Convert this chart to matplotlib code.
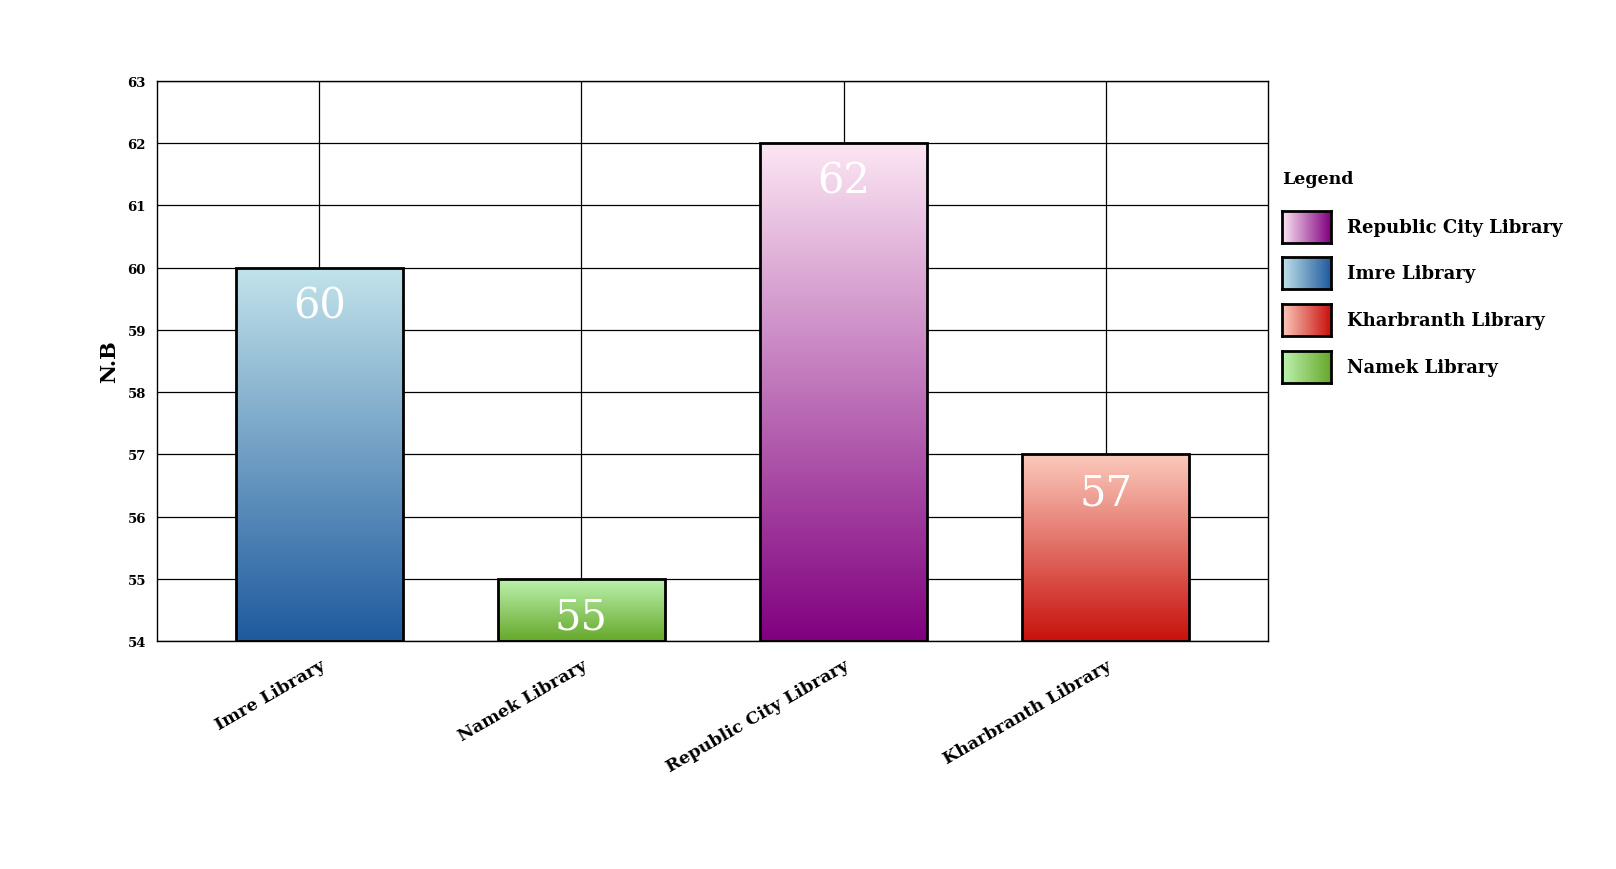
import numpy as np
import matplotlib.pyplot as plt
from matplotlib.colors import LinearSegmentedColormap

categories = ['Imre Library', 'Namek Library', 'Republic City Library', 'Kharbranth Library']
values = [60, 55, 62, 57]
top_colors = ['#c2e3ea', '#bdf3b0', '#fce6f3', '#fbcabd']
bottom_colors = ['#1f5a9e', '#66a82a', '#80007f', '#c8110c']
legend_order = ['Republic City Library', 'Imre Library', 'Kharbranth Library', 'Namek Library']
ylabel = 'N.B'
ymin, ymax = 54, 63

plt.rcParams['font.family'] = ['DejaVu Serif']

fig = plt.figure(figsize=(16.16, 8.70), dpi=100)
ax = fig.add_axes([157 / 1616, 1 - 642 / 870, (1268 - 157) / 1616, (642 - 82) / 870])

x = np.arange(len(categories))
width = 0.64
bars = ax.bar(x, [v - ymin for v in values], width, bottom=ymin,
              facecolor='none', edgecolor='black', linewidth=2, zorder=3)

grad = np.linspace(0, 1, 256).reshape(-1, 1)
for i, b in enumerate(bars):
    cmap = LinearSegmentedColormap.from_list('g%d' % i, [bottom_colors[i], top_colors[i]])
    im = ax.imshow(grad, cmap=cmap, aspect='auto', origin='lower',
                   extent=[b.get_x(), b.get_x() + b.get_width(), ymin, values[i]],
                   zorder=2)
    im.set_clip_path(b)
    ax.annotate(str(values[i]), (x[i], values[i]), xytext=(0, -12),
                textcoords='offset points', ha='center', va='top',
                color='white', fontsize=30, zorder=4)

ax.set_xlim(-0.62, 3.62)
ax.set_ylim(ymin, ymax)
ax.set_yticks(range(ymin, ymax + 1))
ax.set_xticks(x)
ax.set_xticklabels(categories, rotation=30, ha='right', rotation_mode='anchor',
                   fontsize=12.5, fontweight='bold')
for lab in ax.get_yticklabels():
    lab.set_fontsize(9.5)
    lab.set_fontweight('bold')
ax.tick_params(length=0, pad=8)
ax.tick_params(axis='x', pad=11)
ax.grid(True, color='black', linewidth=0.9)
ax.set_axisbelow(True)
for s in ax.spines.values():
    s.set_linewidth(1)
ax.set_ylabel(ylabel, fontsize=15, fontweight='bold', labelpad=6)

# legend drawn by hand with gradient swatches
fig.text(1282 / 1616, 1 - 180 / 870, 'Legend', fontsize=12.5, fontweight='bold', va='center')
row_y = [228, 274, 321, 368]
hgrad = np.linspace(0, 1, 256).reshape(1, -1)
for name, yc in zip(legend_order, row_y):
    i = categories.index(name)
    cmap = LinearSegmentedColormap.from_list('l%d' % i, [top_colors[i], bottom_colors[i]])
    lax = fig.add_axes([1282 / 1616, 1 - (yc + 16) / 870, 49 / 1616, 32 / 870])
    lax.imshow(hgrad, cmap=cmap, aspect='auto')
    lax.set_xticks([])
    lax.set_yticks([])
    for s in lax.spines.values():
        s.set_linewidth(2)
    fig.text(1347 / 1616, 1 - yc / 870, name, fontsize=13, fontweight='bold', va='center')

fig.savefig('out.png', dpi=100)
